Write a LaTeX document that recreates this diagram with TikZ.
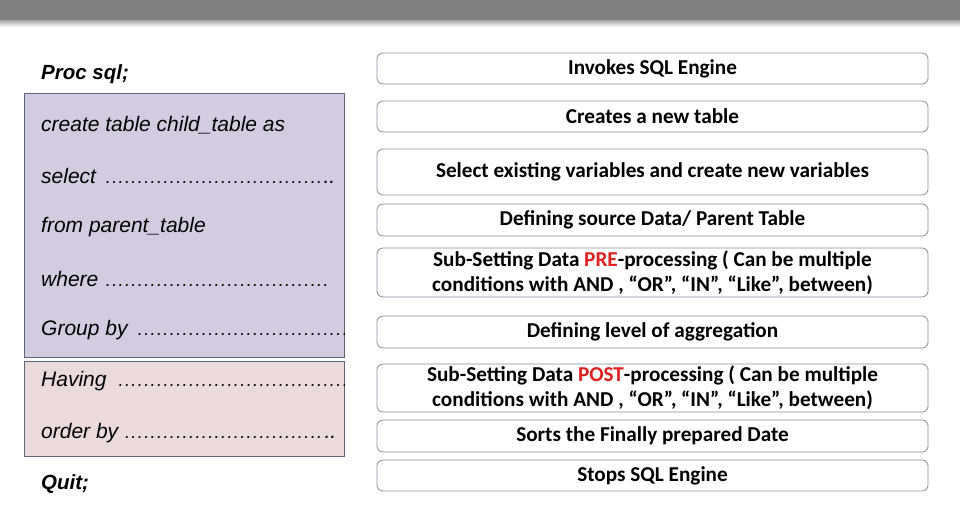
\documentclass[tikz,border=0pt]{standalone}
\usepackage{fontspec}
\setmainfont{Liberation Sans}
\newfontfamily\calibf{Carlito}
\definecolor{barcol}{HTML}{808080}
\definecolor{lavfill}{HTML}{D3CCE1}
\definecolor{pinkfill}{HTML}{EBDADB}
\definecolor{leftedge}{HTML}{5A6676}
\definecolor{rightedge}{HTML}{868E98}
\definecolor{hired}{HTML}{E0201E}
\newcommand{\dotlead}{\leaders\hbox to 6.4pt{\hss\fontsize{18}{20}\selectfont.\hss}\hfill}
\tikzset{
  codeline/.style={anchor=west, inner sep=0pt, font=\fontsize{21}{24}\selectfont\itshape},
  kwline/.style={anchor=west, inner sep=0pt, font=\fontsize{20.5}{24}\selectfont\bfseries\itshape},
  rbox/.style={draw=rightedge, line width=0.8pt, rounded corners=6pt, minimum width=551pt,
     inner sep=0pt, align=center, font=\calibf\fontsize{21.2}{25}\selectfont\bfseries},
  lbox/.style={draw=leftedge, line width=0.8pt}
}
\begin{document}
\begin{tikzpicture}[x=1pt,y=-1pt]
\useasboundingbox (0,0) rectangle (960,504);
% top bar
\fill[barcol] (0,0) rectangle (960,20);
\shade[top color=black!35, bottom color=white] (0,20) rectangle (960,27);
% left boxes
\draw[lbox, fill=lavfill] (24,93) rectangle (344,357);
\draw[lbox, fill=pinkfill] (24,361) rectangle (344,456);
\node[kwline] (proc) at (41,74) {Proc sql;};
\begin{scope}
\clip (24,93) rectangle (344,456);
\node[codeline] (create) at (41,125) {create table child\_table as};
\node[codeline] (select) at (41,176) {\makebox[294pt][l]{select \dotlead..}};
\node[codeline] (from) at (41,227) {from parent\_table};
\node[codeline] (where) at (41,279) {\makebox[292pt][l]{where \dotlead}};
\node[codeline] (group) at (41,330) {\makebox[308pt][l]{Group by \dotlead}};
\node[codeline] (having) at (41,381) {\makebox[308pt][l]{Having \dotlead}};
\node[codeline] (order) at (41,433) {\makebox[295pt][l]{order by \dotlead..}};
\end{scope}
\node[kwline] (quit) at (41,484) {Quit;};
% right boxes
\node[rbox, minimum height=31pt] (b1) at (652.5,68.5) {Invokes SQL Engine};
\node[rbox, minimum height=31pt] (b2) at (652.5,116.5) {Creates a new table};
\node[rbox, minimum height=46pt] (b3) at (652.5,172) {Select existing variables and create new variables};
\node[rbox, minimum height=32pt] (b4) at (652.5,220) {Defining source Data/ Parent Table};
\node[rbox, minimum height=49pt] (b5) at (652.5,272.5) {Sub-Setting Data \textcolor{hired}{PRE}-processing ( Can be multiple\\conditions with AND , “OR”, “IN”, “Like”, between)};
\node[rbox, minimum height=32pt] (b6) at (652.5,332) {Defining level of aggregation};
\node[rbox, minimum height=48pt] (b7) at (652.5,388) {Sub-Setting Data \textcolor{hired}{POST}-processing ( Can be multiple\\conditions with AND , “OR”, “IN”, “Like”, between)};
\node[rbox, minimum height=32pt] (b8) at (652.5,436) {Sorts the Finally prepared Date};
\node[rbox, minimum height=31pt] (b9) at (652.5,475.5) {Stops SQL Engine};
\end{tikzpicture}
\end{document}
